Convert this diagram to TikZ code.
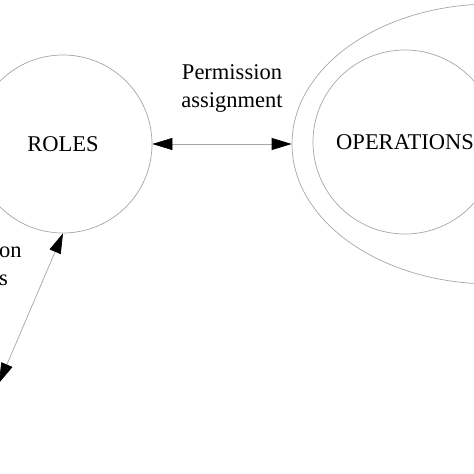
\documentclass[tikz,border=0pt]{standalone}
\usepackage{fontspec}
\setmainfont{Liberation Serif}
\usetikzlibrary{arrows.meta, positioning, shapes.geometric}
\tikzset{
    >={Triangle[length=20pt, width=12pt, black]}, % filled black arrow heads
    every node/.style={font=\fontsize{22.5}{28}\selectfont}, % sets the text size of every node
    set/.style={circle, draw=gray!70, line width=0.7pt, inner sep=0pt}, % sets the properties for each set node
    link/.style={<->, draw=gray!70, line width=0.7pt}, % sets the properties for each connector
}

\begin{document}
\begin{tikzpicture}[x=1pt, y=1pt]
        \useasboundingbox (0,0) rectangle (474,474);

        % Nodes
        \node[set, minimum size=178pt] (roles) at (63,330) {ROLES};
        \node[set, ellipse, minimum width=400pt, minimum height=280pt] (opsOuter) at (492,330) {};
        \node[set, minimum size=184pt] (ops) at (405,332) {OPERATIONS};
        \node[align=center, anchor=south, inner sep=0pt] (permLabel) at (232,361) {Permission\\assignment};
        \node[align=left, anchor=base west, inner sep=0pt] (usersLabel) at (-1,188) {on\\s};
        \coordinate (users) at (-1,91);

        % edges
        \draw[link] (roles) -- (opsOuter);
        \draw[link] (users) -- (roles.south);
\end{tikzpicture}
\end{document}
